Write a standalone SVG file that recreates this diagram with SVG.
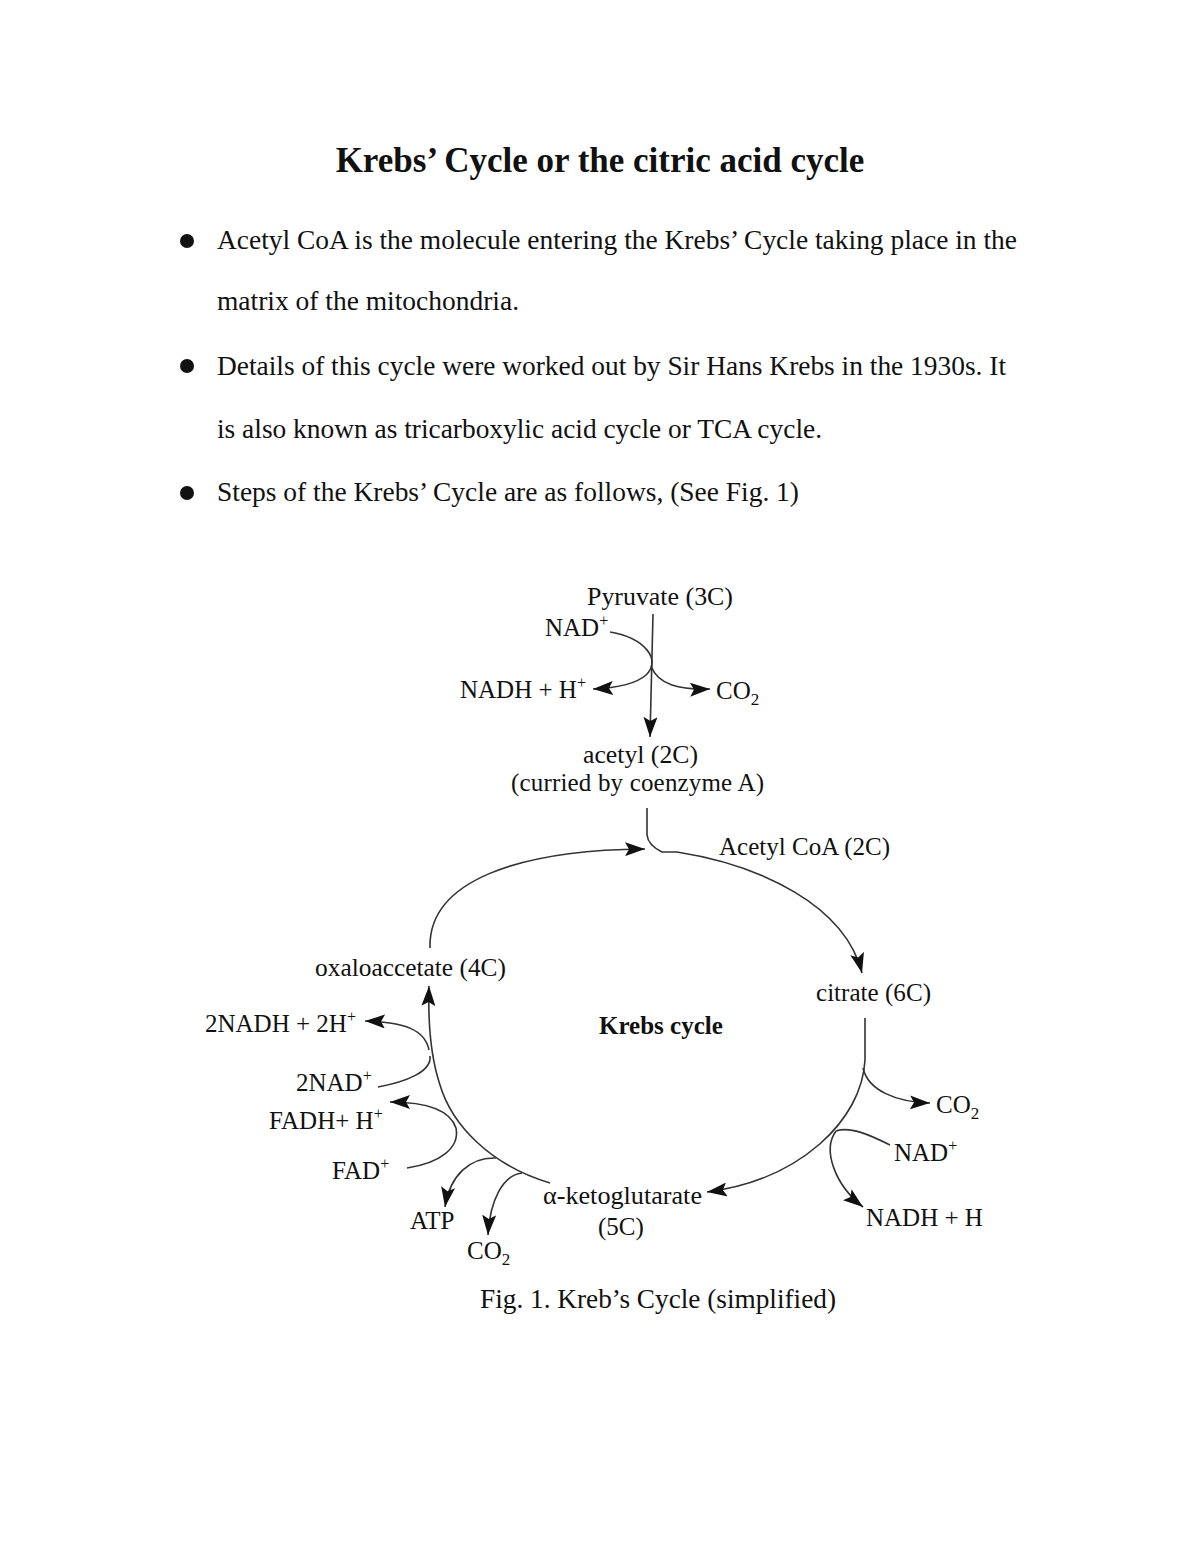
<svg xmlns="http://www.w3.org/2000/svg" width="1200" height="1553" viewBox="0 0 1200 1553">
<style>
text{font-family:"Liberation Serif","Times New Roman",serif;fill:#111}
.title{font-size:35px;font-weight:bold}
.body{font-size:27px}
.lbl{font-size:25px}
.bold{font-weight:bold}
.c{fill:none;stroke:#333;stroke-width:1.6}
.a{marker-end:url(#ah)}
</style>
<defs>
<marker id="ah" markerUnits="userSpaceOnUse" markerWidth="22" markerHeight="14" refX="20" refY="7" orient="auto">
<path d="M0,0 L20,7 L0,14 L4,7 z" fill="#111"/>
</marker>
</defs>
<rect width="1200" height="1553" fill="#fff"/>

<g id="header">
<text class="title" x="600" y="172" text-anchor="middle">Krebs’ Cycle or the citric acid cycle</text>
<circle cx="187" cy="241" r="7" fill="#111"/>
<text class="body" x="217" y="249" textLength="800" lengthAdjust="spacingAndGlyphs">Acetyl CoA is the molecule entering the Krebs’ Cycle taking place in the</text>
<text class="body" x="217" y="310" textLength="302" lengthAdjust="spacingAndGlyphs">matrix of the mitochondria.</text>
<circle cx="187" cy="366" r="7" fill="#111"/>
<text class="body" x="217" y="375" textLength="789" lengthAdjust="spacingAndGlyphs">Details of this cycle were worked out by Sir Hans Krebs in the 1930s. It</text>
<text class="body" x="217" y="438" textLength="605" lengthAdjust="spacingAndGlyphs">is also known as tricarboxylic acid cycle or TCA cycle.</text>
<circle cx="187" cy="493" r="7" fill="#111"/>
<text class="body" x="217" y="501" textLength="582" lengthAdjust="spacingAndGlyphs">Steps of the Krebs’ Cycle are as follows, (See Fig. 1)</text>
</g>

<g id="connectors">
<path class="c a" d="M653,614 L650,737"/>
<path class="c a" d="M610,632 C645,638 662,660 646,675 C636,684 615,688 593,689"/>
<path class="c a" d="M651,666 C658,685 680,690 710,689"/>
<path class="c a" d="M647,808 L647,835 Q648,845 662,852 L677,852 C760,865 845,905 862,973"/>
<path class="c a" d="M430,948 C428,880 520,850 645,849"/>
<path class="c a" d="M550,1183 C490,1165 452,1125 440,1085 C430,1055 428,1020 429,986"/>
<path class="c a" d="M429,1050 C425,1030 405,1022 365,1021"/>
<path class="c" d="M378,1087 C405,1082 432,1072 430,1056"/>
<path class="c a" d="M456,1128 C450,1110 425,1102 390,1102"/>
<path class="c" d="M407,1168 C440,1163 460,1148 456,1128"/>
<path class="c a" d="M496,1158 C470,1157 450,1175 445,1207"/>
<path class="c a" d="M522,1173 C503,1175 490,1200 488,1235"/>
<path class="c a" d="M865,1018 L865,1060 C862,1120 800,1180 707,1192"/>
<path class="c a" d="M863,1068 C868,1090 895,1102 930,1103"/>
<path class="c" d="M890,1145 C870,1135 850,1126 836,1131"/>
<path class="c a" d="M836,1131 C822,1150 835,1185 863,1207"/>
</g>

<g id="pyruvate"><text class="lbl" x="587" y="605" textLength="146" lengthAdjust="spacingAndGlyphs">Pyruvate (3C)</text></g>
<g id="nad-top"><text class="lbl" x="545" y="636">NAD<tspan dy="-10" font-size="16">+</tspan></text></g>
<g id="nadh-top"><text class="lbl" x="460" y="698">NADH + H<tspan dy="-10" font-size="16">+</tspan></text></g>
<g id="co2-top"><text class="lbl" x="716" y="699">CO<tspan dy="6" font-size="17">2</tspan></text></g>
<g id="acetyl"><text class="lbl" x="583" y="763" textLength="115" lengthAdjust="spacingAndGlyphs">acetyl (2C)</text>
<text class="lbl" x="511" y="791" textLength="253" lengthAdjust="spacing">(curried by coenzyme A)</text></g>
<g id="acetylcoa"><text class="lbl" x="719" y="855" textLength="171" lengthAdjust="spacing">Acetyl CoA (2C)</text></g>
<g id="oxaloacetate"><text class="lbl" x="315" y="976" textLength="191" lengthAdjust="spacingAndGlyphs">oxaloaccetate (4C)</text></g>
<g id="citrate"><text class="lbl" x="816" y="1001" textLength="115" lengthAdjust="spacingAndGlyphs">citrate (6C)</text></g>
<g id="krebs"><text class="lbl bold" x="599" y="1034">Krebs cycle</text></g>
<g id="nadh2"><text class="lbl" x="205" y="1032">2NADH + 2H<tspan dy="-10" font-size="16">+</tspan></text></g>
<g id="nad2"><text class="lbl" x="296" y="1091">2NAD<tspan dy="-10" font-size="16">+</tspan></text></g>
<g id="fadh"><text class="lbl" x="269" y="1129">FADH+ H<tspan dy="-10" font-size="16">+</tspan></text></g>
<g id="fad"><text class="lbl" x="332" y="1179">FAD<tspan dy="-10" font-size="16">+</tspan></text></g>
<g id="atp"><text class="lbl" x="410" y="1229">ATP</text></g>
<g id="co2-low"><text class="lbl" x="467" y="1259">CO<tspan dy="6" font-size="17">2</tspan></text></g>
<g id="aketo"><text class="lbl" x="543" y="1204" textLength="159" lengthAdjust="spacingAndGlyphs">α-ketoglutarate</text>
<text class="lbl" x="598" y="1235">(5C)</text></g>
<g id="co2-right"><text class="lbl" x="936" y="1113">CO<tspan dy="6" font-size="17">2</tspan></text></g>
<g id="nad-right"><text class="lbl" x="894" y="1161">NAD<tspan dy="-10" font-size="16">+</tspan></text></g>
<g id="nadh-right"><text class="lbl" x="866" y="1226">NADH + H</text></g>
<g id="caption"><text class="body" x="480" y="1308" textLength="356" lengthAdjust="spacingAndGlyphs">Fig. 1. Kreb’s Cycle (simplified)</text></g>
</svg>
